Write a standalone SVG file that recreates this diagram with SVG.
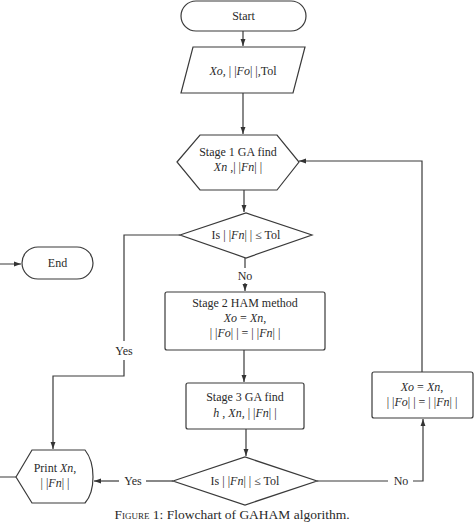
<svg xmlns="http://www.w3.org/2000/svg" width="474" height="528" viewBox="0 0 474 528">
<defs>
<marker id="arr" viewBox="0 0 10 10" refX="10" refY="5" markerWidth="7" markerHeight="7" orient="auto" markerUnits="userSpaceOnUse">
<path d="M0,1.5 L10,5 L0,8.5 Z" fill="#333"/>
</marker>
<style>
.s{fill:#fff;stroke:#3a3a3a;stroke-width:1.2}
.c{fill:none;stroke:#3a3a3a;stroke-width:1.2}
text{font-family:"Liberation Serif","Times New Roman",serif;font-size:12px;fill:#2a2a2a;text-anchor:middle}
.i{font-style:italic}
</style>
</defs>
<rect width="474" height="528" fill="#fff"/>
<g id="connectors">
<path class="c" d="M243,31 V46" marker-end="url(#arr)"/>
<path class="c" d="M243,93 V134" marker-end="url(#arr)"/>
<path class="c" d="M244,190 V212" marker-end="url(#arr)"/>
<path class="c" d="M245,258 V268"/>
<path class="c" d="M245,283 V291" marker-end="url(#arr)"/>
<path class="c" d="M244,350 V382" marker-end="url(#arr)"/>
<path class="c" d="M246,429 V456" marker-end="url(#arr)"/>
<path class="c" d="M180,235 H124 V341"/>
<path class="c" d="M124,360 V376 H53 V449" marker-end="url(#arr)"/>
<path class="c" d="M173,481 H146"/>
<path class="c" d="M119,481 H94" marker-end="url(#arr)"/>
<path class="c" d="M317,481 H388"/>
<path class="c" d="M413,481 H423 V419" marker-end="url(#arr)"/>
<path class="c" d="M422,372 V161 H299" marker-end="url(#arr)"/>
<path class="c" d="M16,477 H-2 V264 H21" marker-end="url(#arr)"/>
<text x="245" y="280">No</text>
<text x="124" y="355">Yes</text>
<text x="133" y="485">Yes</text>
<text x="401" y="485">No</text>
</g>
<g id="start">
<rect class="s" x="181" y="1" width="125" height="30" rx="15"/>
<text x="243.5" y="20">Start</text>
</g>
<g id="input">
<path class="s" d="M193,47 H305 L293,93 H181 Z"/>
<text x="243" y="75"><tspan class="i">Xo</tspan>, | |<tspan class="i">Fo</tspan>| |,Tol</text>
</g>
<g id="stage1">
<path class="s" d="M177,162 L200,135 H277 L299,162 L277,190 H200 Z"/>
<text x="238" y="156">Stage 1 GA find</text>
<text x="238" y="171"><tspan class="i">Xn</tspan> ,| |<tspan class="i">Fn</tspan>| |</text>
</g>
<g id="decision1">
<path class="s" d="M180,235 L246,213 L312,235 L246,258 Z"/>
<text x="246" y="239">Is | |<tspan class="i">Fn</tspan>| | ≤ Tol</text>
</g>
<g id="end">
<rect class="s" x="22" y="247" width="71" height="32" rx="16"/>
<text x="57.5" y="267">End</text>
</g>
<g id="stage2">
<rect class="s" x="165" y="292" width="160" height="58" rx="2"/>
<text x="245" y="307">Stage 2 HAM method</text>
<text x="245" y="322"><tspan class="i">Xo</tspan> = <tspan class="i">Xn</tspan>,</text>
<text x="245" y="337">| |<tspan class="i">Fo</tspan>| | = | |<tspan class="i">Fn</tspan>| |</text>
</g>
<g id="stage3">
<rect class="s" x="186" y="383" width="118" height="46" rx="2"/>
<text x="245" y="401">Stage 3 GA find</text>
<text x="245" y="417"><tspan class="i">h</tspan> , <tspan class="i">Xn</tspan>, | |<tspan class="i">Fn</tspan>| |</text>
</g>
<g id="decision2">
<path class="s" d="M173,481 L245,457 L317,481 L245,505 Z"/>
<text x="245" y="485">Is | |<tspan class="i">Fn</tspan>| | ≤ Tol</text>
</g>
<g id="update">
<rect class="s" x="372" y="372" width="101" height="46" rx="2"/>
<text x="422" y="391"><tspan class="i">Xo</tspan> = <tspan class="i">Xn</tspan>,</text>
<text x="422" y="406">| |<tspan class="i">Fo</tspan>| | = | |<tspan class="i">Fn</tspan>| |</text>
</g>
<g id="print">
<path class="s" d="M16,477 L32,450 H85 Q93,460 93,477 Q93,494 85,503 H32 Z"/>
<text x="55" y="472">Print <tspan class="i">Xn</tspan>,</text>
<text x="55" y="487">| |<tspan class="i">Fn</tspan>| |</text>
</g>
<text x="232" y="519" style="font-size:13.5px"><tspan style="font-variant:small-caps">Figure</tspan> 1: Flowchart of GAHAM algorithm.</text>
</svg>
